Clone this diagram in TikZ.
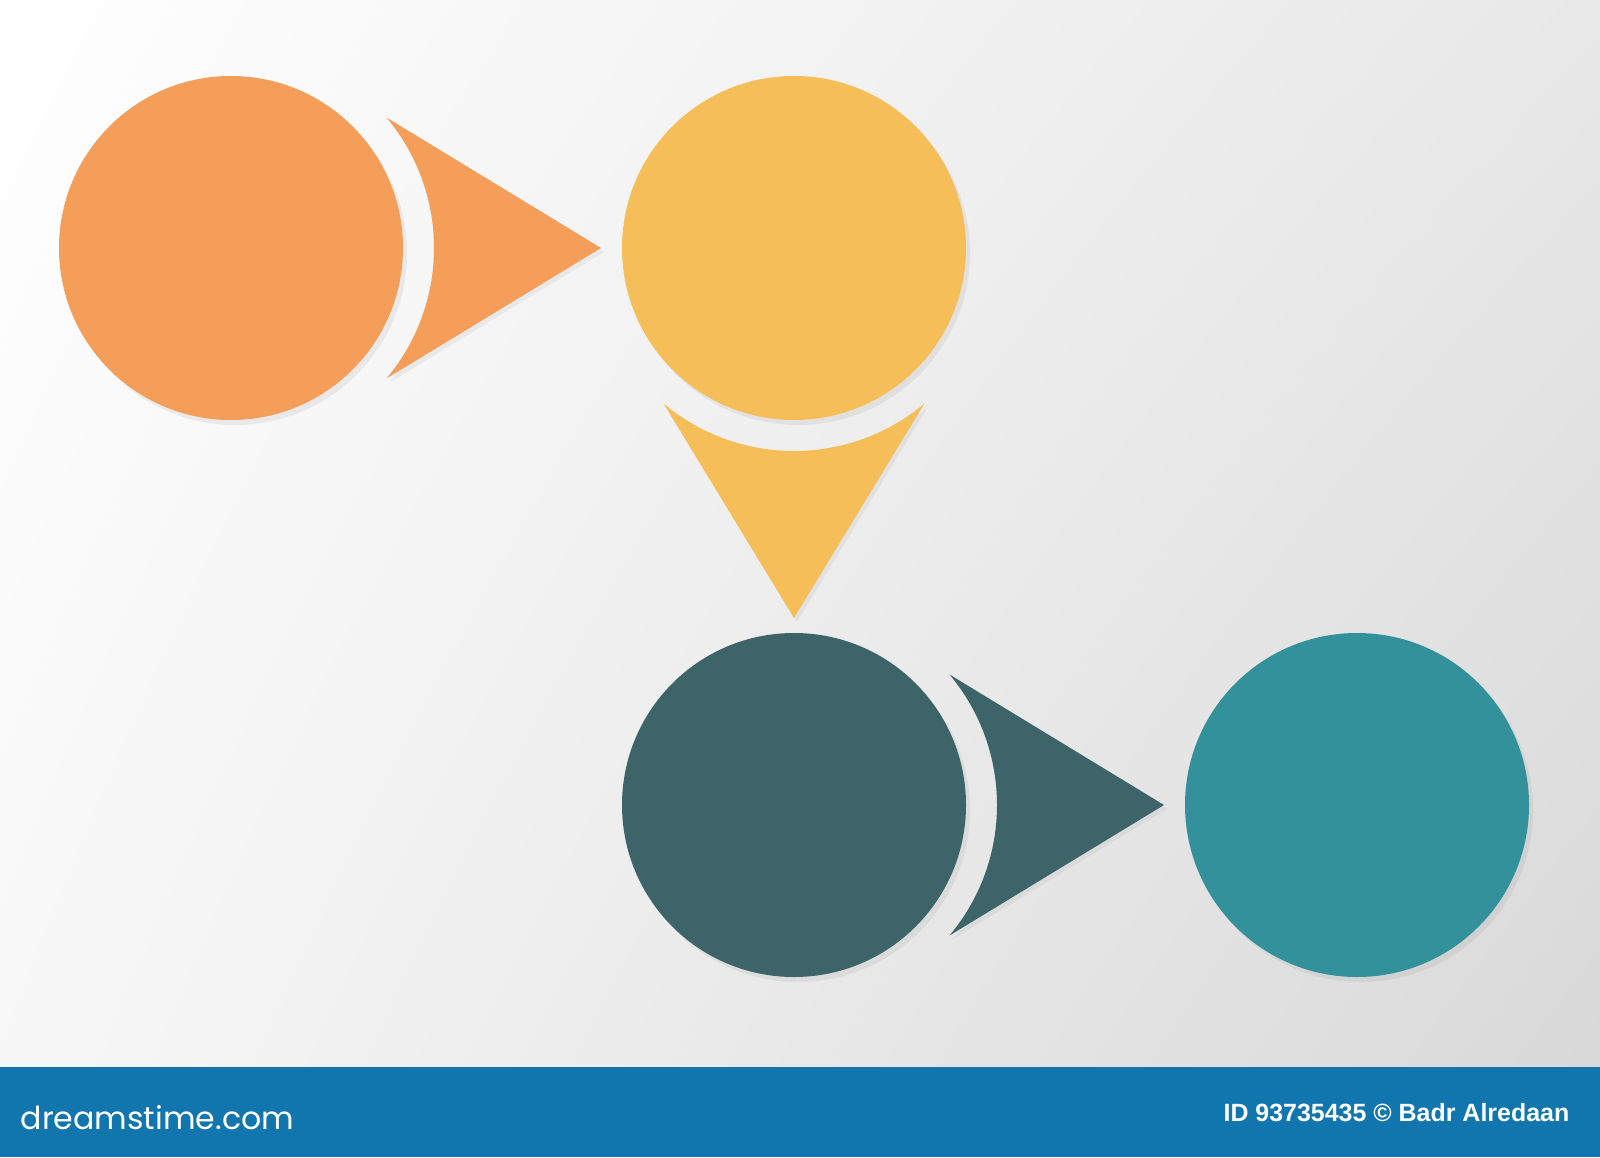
\documentclass[tikz,border=0pt]{standalone}
\usepackage{fontspec}
\usepackage{xcolor}
\newfontfamily\logofont{Poppins}
\newfontfamily\idfont{Liberation Sans}
\usetikzlibrary{calc,shadows,shadings}

\definecolor{orangeA}{RGB}{244,158,90}
\definecolor{yellowA}{RGB}{246,190,89}
\definecolor{slateA}{RGB}{60,100,105}
\definecolor{tealA}{RGB}{51,145,155}
\definecolor{bannerA}{RGB}{18,118,174}

\begin{document}
\begin{tikzpicture} [
       bubble/.style={circle, minimum size=3.44cm, inner sep=0pt,
               drop shadow={shadow xshift=0.04cm, shadow yshift=-0.05cm, opacity=0.12}},
       pointer/.style={drop shadow={shadow xshift=0.03cm, shadow yshift=-0.04cm, opacity=0.10}},
       banner/.style={text=white, inner sep=0pt},
       node distance=5.63cm,
       ]
       \useasboundingbox (0,0) rectangle (16,11.57);
       % background
       \shade[upper left=white, upper right=black!9, lower left=black!3, lower right=black!15]
              (0,0.9) rectangle (16,11.57);
       \fill[bannerA] (0,0) rectangle (16,0.9);
       \node (logo) [banner, anchor=west] at (0.2,0.39) {\logofont\fontsize{9}{11}\selectfont dreamstime.com};
       \node (credit) [banner, anchor=east] at (15.7,0.44) {\idfont\bfseries\fontsize{7.1}{9}\selectfont ID 93735435 \textcopyright{} Badr Alredaan};
       % circles
       \node (c1) [bubble, fill=orangeA] at (2.31,9.09) {};
       \node (c2) [bubble, fill=yellowA, right of = c1] {};
       \node (c3) [bubble, fill=slateA, below of = c2, node distance=5.57cm] {};
       \node (c4) [bubble, fill=tealA, right of = c3] {};
       % arrows
       \fill[pointer, orangeA] ($(c1.center)+(40:2.03)$) arc[start angle=40, end angle=-40, radius=2.03]
              -- ($(c1.center)+(0:3.7)$) -- cycle;
       \fill[pointer, yellowA] ($(c2.center)+(-130:2.03)$) arc[start angle=-130, end angle=-50, radius=2.03]
              -- ($(c2.center)+(-90:3.7)$) -- cycle;
       \fill[pointer, slateA] ($(c3.center)+(40:2.03)$) arc[start angle=40, end angle=-40, radius=2.03]
              -- ($(c3.center)+(0:3.7)$) -- cycle;
\end{tikzpicture}
\end{document}
